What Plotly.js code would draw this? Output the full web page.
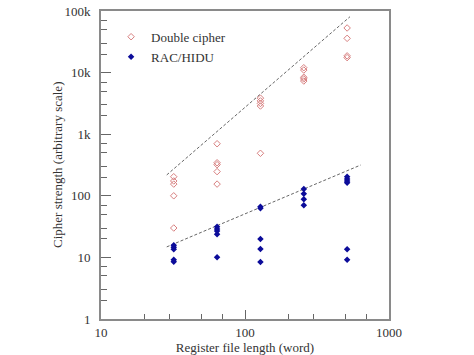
<!DOCTYPE html>
<html>
<head>
<meta charset="utf-8">
<script src="https://cdn.plot.ly/plotly-3.0.1.min.js"></script>
<style>
  html, body { margin: 0; padding: 0; background: #ffffff; }
  #chart { width: 474px; height: 355px; }
</style>
</head>
<body>
<div id="chart"></div>
<script>
// Register file length (words) for each measurement
const doubleX = [32, 32, 32, 32, 32, 64, 64, 64, 64, 64, 128, 128, 128, 128, 128, 256, 256, 256, 256, 256, 512, 512, 512, 512];
const doubleY = [204, 174, 155, 100, 30, 700, 344, 320, 247, 155, 3850, 3470, 3160, 2870, 490, 12000, 11000, 8400, 7900, 7300, 53000, 36000, 18700, 17500];

const racX = [32, 32, 32, 32, 32, 64, 64, 64, 64, 64, 128, 128, 128, 128, 128, 256, 256, 256, 256, 512, 512, 512, 512, 512, 512];
const racY = [15.7, 14.6, 13.5, 9.2, 8.5, 31.5, 29, 26.8, 23.7, 10.1, 66.5, 63, 19.9, 13.7, 8.4, 129, 108, 88, 70, 204, 187, 174, 163, 13.5, 9.2];

// Dashed trend lines (end points)
const fitUpperX = [28.6, 536];
const fitUpperY = [218, 80800];
const fitLowerX = [28.6, 636];
const fitLowerY = [14.8, 316];

// Tick labels
const yTickVals = [1, 10, 100, 1000, 10000, 100000];
const yTickText = ["1", "10", "100", "1k", "10k", "100k"];
const xTickVals = [10, 100, 1000];
const xTickText = ["10", "100", "1000"];
const xMinor = [20, 30, 50, 70, 200, 300, 500, 700];
const yMinor = [];
[1, 10, 100, 1000, 10000].forEach(d => [2, 3, 5, 7].forEach(m => yMinor.push(d * m)));

const FONT = "Liberation Serif, Times New Roman, serif";

const traces = [
  {
    x: fitUpperX, y: fitUpperY, mode: "lines", showlegend: false, hoverinfo: "skip",
    line: { color: "#666666", width: 1, dash: "3px,2px" }
  },
  {
    x: fitLowerX, y: fitLowerY, mode: "lines", showlegend: false, hoverinfo: "skip",
    line: { color: "#666666", width: 1, dash: "3px,2px" }
  },
  {
    x: doubleX, y: doubleY, mode: "markers", name: "Double cipher",
    marker: { symbol: "diamond-open", size: 5, color: "#d88080", line: { width: 1, color: "#d88080" } }
  },
  {
    x: racX, y: racY, mode: "markers", name: "RAC/HIDU",
    marker: { symbol: "diamond", size: 5, color: "#0c0c9a" }
  }
];

const layout = {
  width: 474, height: 355,
  margin: { l: 101, r: 85, t: 11, b: 36, pad: 0 },
  paper_bgcolor: "#ffffff", plot_bgcolor: "#ffffff",
  font: { family: FONT, size: 13, color: "#333333" },
  showlegend: true,
  legend: {
    x: 0.035, y: 0.965, xanchor: "left", yanchor: "top",
    bgcolor: "rgba(0,0,0,0)", borderwidth: 0,
    font: { family: FONT, size: 13, color: "#333333" },
    tracegroupgap: 0, itemwidth: 30
  },
  annotations: [
    {
      text: "Cipher strength (arbitrary scale)", textangle: -90,
      xref: "paper", yref: "paper", x: -0.153, y: 0.5, xanchor: "center", yanchor: "middle",
      showarrow: false, font: { family: FONT, size: 13, color: "#333333" }
    }
  ],
  xaxis: {
    type: "log", range: [1, 3],
    tickmode: "array", tickvals: xTickVals, ticktext: xTickText,
    ticks: "inside", ticklen: 9, tickwidth: 1, tickcolor: "#666666",
    minor: { tickmode: "array", tickvals: xMinor, ticks: "inside", ticklen: 5, tickwidth: 1, tickcolor: "#666666", showgrid: false },
    showgrid: false, zeroline: false,
    showline: true, linecolor: "#8a8a8a", linewidth: 2, mirror: true,
    tickfont: { family: FONT, size: 13, color: "#333333" },
    title: { text: "Register file length (word)", font: { family: FONT, size: 13, color: "#333333" }, standoff: 1 }
  },
  yaxis: {
    type: "log", range: [0, 5],
    tickmode: "array", tickvals: yTickVals, ticktext: yTickText,
    ticks: "inside", ticklen: 10, tickwidth: 1, tickcolor: "#666666",
    minor: { tickmode: "array", tickvals: yMinor, ticks: "inside", ticklen: 6, tickwidth: 1, tickcolor: "#666666", showgrid: false },
    showgrid: false, zeroline: false,
    showline: true, linecolor: "#8a8a8a", linewidth: 2, mirror: true,
    tickfont: { family: FONT, size: 13, color: "#333333" },
    ticklabelstandoff: 6
  }
};

Plotly.newPlot("chart", traces, layout, { displayModeBar: false, staticPlot: true });
</script>
</body>
</html>
